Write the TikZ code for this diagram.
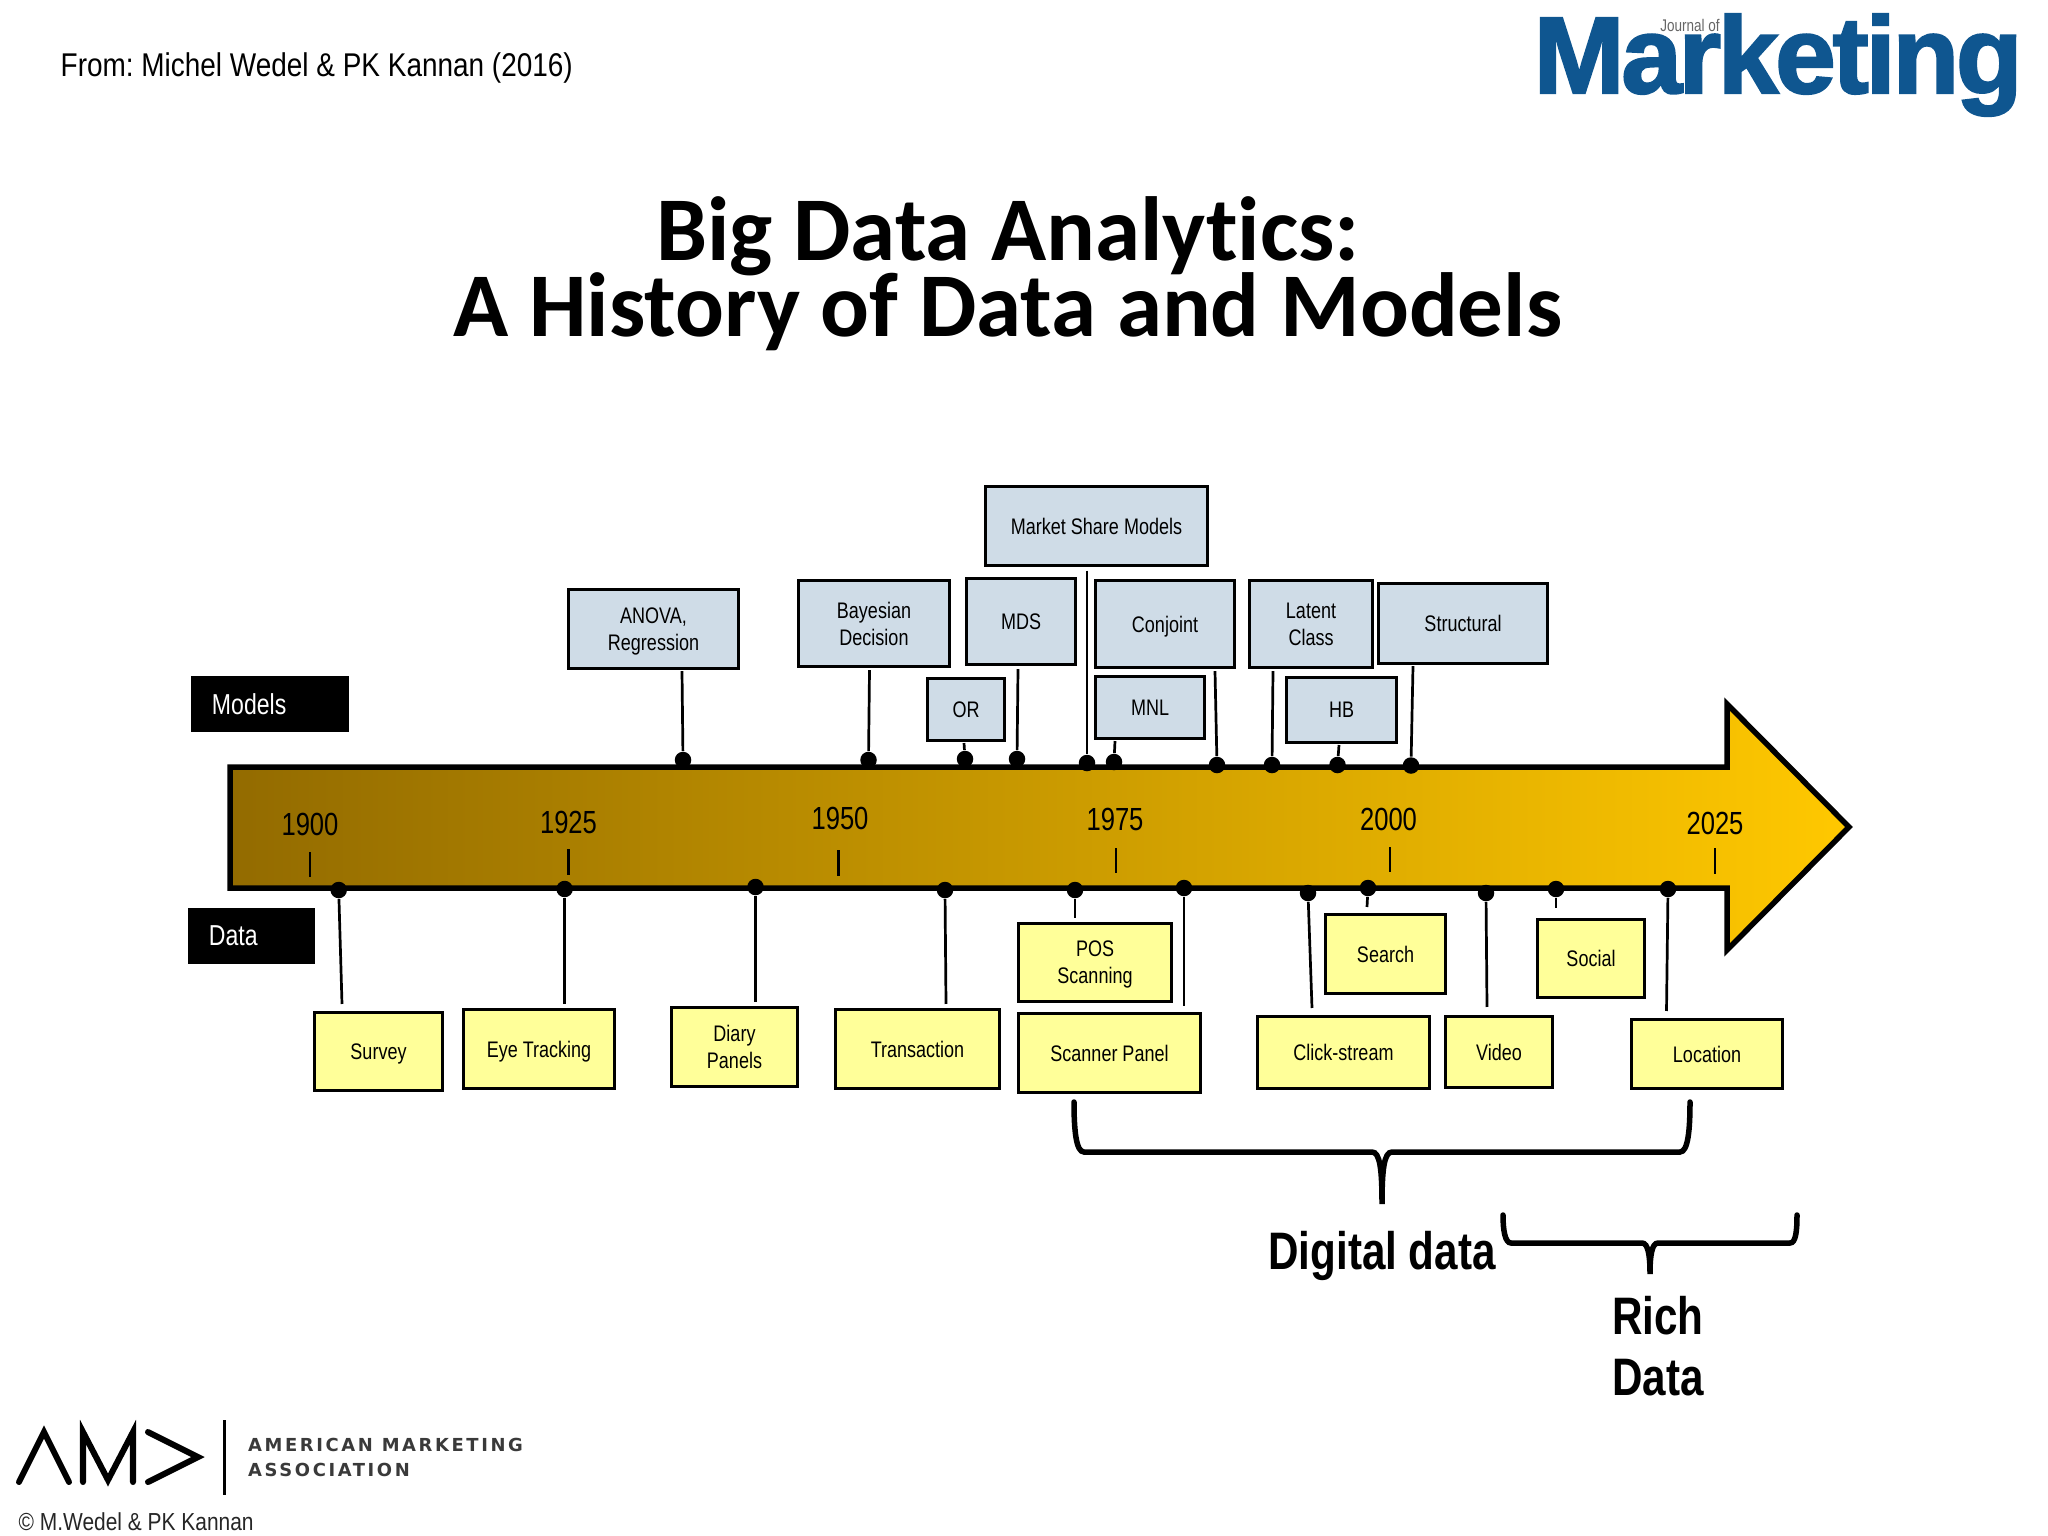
\documentclass[tikz,border=0pt]{standalone}
\usepackage{fontspec}
\usepackage{xcolor}
\usepackage{tikz}
\usetikzlibrary{positioning}
\setmainfont{Liberation Sans}[FakeStretch=0.8]
\newfontfamily\titlefont{Carlito}[BoldFont=Carlito Bold,Ligatures=CommonOff]
\newfontfamily\footfont{Liberation Sans}[FakeStretch=0.85]
\newfontfamily\logofont{Liberation Sans}[BoldFeatures={FakeBold=2,LetterSpace=-3}]
\newfontfamily\amafont{DejaVu Sans}[LetterSpace=14.5]
\pgfdeclarelayer{arrowlayer}
\pgfdeclarelayer{edgelayer}
\pgfdeclarelayer{nodelayer}
\pgfsetlayers{arrowlayer,edgelayer,nodelayer,main}
\definecolor{modelfill}{HTML}{CFDCE7}
\definecolor{datafill}{HTML}{FFFF99}
\definecolor{barleft}{HTML}{936B00}
\definecolor{barmid}{HTML}{E3A700}
\definecolor{barright}{HTML}{FFC800}
\definecolor{logoblue}{HTML}{0F5690}
\definecolor{amagray}{HTML}{3A3A3A}
\tikzset{
  modelbox/.style={draw, line width=0.03cm, fill=modelfill, inner sep=0pt, align=center, font=\fontsize{6.4}{7.7}\selectfont},
  databox/.style={draw, line width=0.03cm, fill=datafill, inner sep=0pt, align=center, font=\fontsize{6.4}{7.7}\selectfont},
  tagbox/.style={fill=black, text=white, inner sep=0pt, font=\fontsize{8.2}{10}\selectfont},
  evdot/.style={circle, fill=black, inner sep=0pt, minimum size=0.165cm},
  yearlabel/.style={inner sep=0pt, font=\fontsize{9.1}{11}\selectfont},
  stem/.style={line width=0.027cm},
  brace/.style={line width=0.055cm, line cap=round},
  amamark/.style={line width=0.06cm, line cap=round}
}
\begin{document}
\begin{tikzpicture}[x=0.01cm, y=-0.01cm]
  \useasboundingbox (0, 0) rectangle (2048, 1536);
  \begin{pgfonlayer}{arrowlayer}
    \draw [line width=0.055cm, miter limit=10, left color=barleft, middle color=barmid, right color=barright] (230, 767) -- (1727, 767) -- (1727, 704) -- (1849, 827) -- (1727, 950) -- (1727, 888) -- (230, 888) -- cycle;
  \end{pgfonlayer}
  \begin{pgfonlayer}{nodelayer}
    % headings
    \node [font=\footfont\frenchspacing\fontsize{9.35}{11}\selectfont, anchor=west, inner sep=0pt] (source) at (60, 68) {From: Michel Wedel \& PK Kannan (2016)};
    \node [font=\titlefont\bfseries\fontsize{25.9}{21.9}\selectfont, align=center, inner sep=0pt] (title) at (1008, 273.5) {Big Data Analytics:\\[-1.9pt]A History of Data and Models};
    \node [tagbox, minimum width=1.58cm, minimum height=0.56cm, text width=1.16cm, align=left] (models) at (270, 704) {Models};
    \node [tagbox, minimum width=1.27cm, minimum height=0.55cm, text width=0.85cm, align=left] (data) at (251.5, 936) {Data};
    % model boxes
    \node [modelbox, text depth=0pt, minimum width=1.69cm, minimum height=0.79cm] (anova) at (653.5, 629) {ANOVA,\\Regression};
    \node [modelbox, minimum width=1.51cm, minimum height=0.86cm] (bayes) at (874, 623.5) {Bayesian\\Decision};
    \node [modelbox, minimum width=0.77cm, minimum height=0.62cm] (or) at (966, 709.5) {OR};
    \node [modelbox, minimum width=1.09cm, minimum height=0.86cm] (mds) at (1021, 621.5) {MDS};
    \node [modelbox, minimum width=2.22cm, minimum height=0.79cm] (msm) at (1096.5, 526) {Market Share Models};
    \node [modelbox, minimum width=1.09cm, minimum height=0.62cm] (mnl) at (1150, 707.5) {MNL};
    \node [modelbox, text depth=0pt, minimum width=1.39cm, minimum height=0.87cm] (conjoint) at (1165, 624) {Conjoint};
    \node [modelbox, minimum width=1.23cm, minimum height=0.87cm] (latent) at (1311, 624) {Latent\\Class};
    \node [modelbox, minimum width=1.10cm, minimum height=0.65cm] (hb) at (1341.5, 710) {HB};
    \node [modelbox, minimum width=1.69cm, minimum height=0.80cm] (struct) at (1463, 623.5) {Structural};
    % data boxes
    \node [databox, text depth=0pt, minimum width=1.27cm, minimum height=0.78cm] (survey) at (378.5, 1051.5) {Survey};
    \node [databox, text depth=0pt, minimum width=1.51cm, minimum height=0.79cm] (eye) at (539, 1049) {Eye Tracking};
    \node [databox, minimum width=1.26cm, minimum height=0.79cm] (diary) at (734.5, 1047) {Diary\\Panels};
    \node [databox, minimum width=1.64cm, minimum height=0.79cm] (trans) at (917.5, 1049) {Transaction};
    \node [databox, text depth=0pt, minimum width=1.53cm, minimum height=0.78cm] (pos) at (1095, 962.5) {POS\\Scanning};
    \node [databox, minimum width=1.82cm, minimum height=0.79cm] (scanner) at (1109.5, 1053) {Scanner Panel};
    \node [databox, minimum width=1.72cm, minimum height=0.72cm] (click) at (1343.5, 1052.5) {Click-stream};
    \node [databox, minimum width=1.20cm, minimum height=0.79cm] (search) at (1385.5, 954) {Search};
    \node [databox, minimum width=1.07cm, minimum height=0.71cm] (video) at (1499, 1052) {Video};
    \node [databox, minimum width=1.07cm, minimum height=0.78cm] (social) at (1591, 958.5) {Social};
    \node [databox, minimum width=1.51cm, minimum height=0.69cm] (location) at (1707, 1054) {Location};
    % dots on the top edge
    \node [evdot] (anovadot) at (683, 760) {};
    \node [evdot] (bayesdot) at (868.5, 760) {};
    \node [evdot] (ordot) at (965, 759) {};
    \node [evdot] (mdsdot) at (1017, 759) {};
    \node [evdot] (msmdot) at (1087, 763) {};
    \node [evdot] (mnldot) at (1114, 762) {};
    \node [evdot] (conjointdot) at (1217, 765) {};
    \node [evdot] (latentdot) at (1272, 765) {};
    \node [evdot] (hbdot) at (1337.5, 765) {};
    \node [evdot] (structdot) at (1411, 765.5) {};
    % dots on the bottom edge
    \node [evdot] (surveydot) at (338.7, 890) {};
    \node [evdot] (eyedot) at (564.6, 889) {};
    \node [evdot] (diarydot) at (755.5, 887) {};
    \node [evdot] (transdot) at (945, 890) {};
    \node [evdot] (posdot) at (1075, 890) {};
    \node [evdot] (scannerdot) at (1184, 888) {};
    \node [evdot] (clickdot) at (1308, 893) {};
    \node [evdot] (searchdot) at (1368, 888) {};
    \node [evdot] (videodot) at (1486, 893) {};
    \node [evdot] (socialdot) at (1556, 889) {};
    \node [evdot] (locationdot) at (1668, 889) {};
    % years
    \node [yearlabel] (y1900) at (310, 824) {1900};
    \node [yearlabel] (y1925) at (568.5, 822) {1925};
    \node [yearlabel] (y1950) at (840, 818) {1950};
    \node [yearlabel] (y1975) at (1115, 819) {1975};
    \node [yearlabel] (y2000) at (1388.5, 819) {2000};
    \node [yearlabel] (y2025) at (1715, 823) {2025};
    % bracket labels
    \node [font=\bfseries\fontsize{15}{17.4}\selectfont, inner sep=0pt] (digital) at (1382, 1256) {Digital data};
    \node [font=\bfseries\fontsize{15}{17.4}\selectfont, align=center, inner sep=0pt] (rich) at (1658, 1346) {Rich\\Data};
    % logos
    \node [font=\logofont\bfseries\fontsize{31}{31}\selectfont, text=logoblue, anchor=base west, inner sep=0pt] (jm) at (1533, 93) {Marketing};
    \node [font=\fontsize{4.8}{5}\selectfont, text=black!60, inner sep=0pt] (journal) at (1690, 25) {Journal of};
    \node [font=\amafont\bfseries\fontsize{5.1}{7}\selectfont, text=amagray, anchor=west, inner sep=0pt] (amaone) at (247.5, 1445) {AMERICAN MARKETING};
    \node [font=\amafont\bfseries\fontsize{5.1}{7}\selectfont, text=amagray, anchor=west, inner sep=0pt] (amatwo) at (247.5, 1470) {ASSOCIATION};
    \node [font=\footfont\fontsize{7}{8}\selectfont, text=black!85, anchor=west, inner sep=0pt] (copy) at (18, 1522) {© M.Wedel \& PK Kannan};
  \end{pgfonlayer}
  \begin{pgfonlayer}{edgelayer}
    \draw [stem] (anova.south) ++(28.5, 1) to (anovadot);
    \draw [stem] (bayes.south) ++(-4.5, 2) to (bayesdot);
    \draw [stem] (or.south) ++(-2, 1) to (ordot);
    \draw [stem] (mds.south) ++(-3, 3) to (mdsdot);
    \draw [stem] (msm.south) ++(-9.5, 3.5) to (msmdot);
    \draw [stem] (mnl.south) ++(-35, 1) to (mnldot);
    \draw [stem] (conjoint.south) ++(50, 2) to (conjointdot);
    \draw [stem] (latent.south) ++(-38, 2) to (latentdot);
    \draw [stem] (hb.south) ++(-2.5, 1) to (hbdot);
    \draw [stem] (struct.south) ++(-50, 1) to (structdot);
    \draw [stem] (survey.north) ++(-36.5, -7) to (surveydot);
    \draw [stem] (eye.north) ++(25.6, -4) to (eyedot);
    \draw [stem] (diary.north) ++(21, -4) to (diarydot);
    \draw [stem] (trans.north) ++(28.5, -4) to (transdot);
    \draw [stem] (pos.north) ++(-20, -4) to (posdot);
    \draw [stem] (scanner.north) ++(74.5, -6) to (scannerdot);
    \draw [stem] (click.north) ++(-31.5, -7) to (clickdot);
    \draw [stem] (search.north) ++(-18.5, -6) to (searchdot);
    \draw [stem] (video.north) ++(-12, -8) to (videodot);
    \draw [stem] (social.north) ++(-35, -10) to (socialdot);
    \draw [stem] (location.north) ++(-40.5, -7) to (locationdot);
    % year ticks
    \draw [stem] (y1900) ++(0, 28) -- ++(0, 25);
    \draw [stem] (y1925) ++(0, 27) -- ++(0, 26);
    \draw [stem] (y1950) ++(-1.5, 32) -- ++(0, 26);
    \draw [stem] (y1975) ++(1, 29) -- ++(0, 25);
    \draw [stem] (y2000) ++(1.5, 28) -- ++(0, 25);
    \draw [stem] (y2025) ++(0, 25) -- ++(0, 26);
    % brackets
    \draw [brace] (1074, 1102) .. controls (1074, 1130) and (1076, 1152) .. (1084, 1152) -- (1372, 1152) .. controls (1380, 1152) and (1382, 1170) .. (1382, 1204) .. controls (1382, 1170) and (1384, 1152) .. (1392, 1152) -- (1680, 1152) .. controls (1688, 1152) and (1690, 1130) .. (1690, 1102);
    \draw [brace] (1503, 1215) .. controls (1503, 1230) and (1505, 1243) .. (1511, 1243) -- (1642, 1243) .. controls (1648, 1243) and (1650, 1255) .. (1650, 1274) .. controls (1650, 1255) and (1652, 1243) .. (1658, 1243) -- (1790, 1243) .. controls (1796, 1243) and (1797, 1230) .. (1797, 1215);
    % association mark
    \draw [amamark] (19, 1482) -- (44, 1432) -- (69, 1482);
    \draw [amamark] (83, 1482) -- (83, 1432) -- (108, 1480) -- (133, 1432) -- (133, 1482);
    \draw [amamark] (148, 1432) -- (198, 1457) -- (148, 1482);
    \draw [line width=0.03cm] (224, 1420) -- (224, 1495);
  \end{pgfonlayer}
\end{tikzpicture}
\end{document}
